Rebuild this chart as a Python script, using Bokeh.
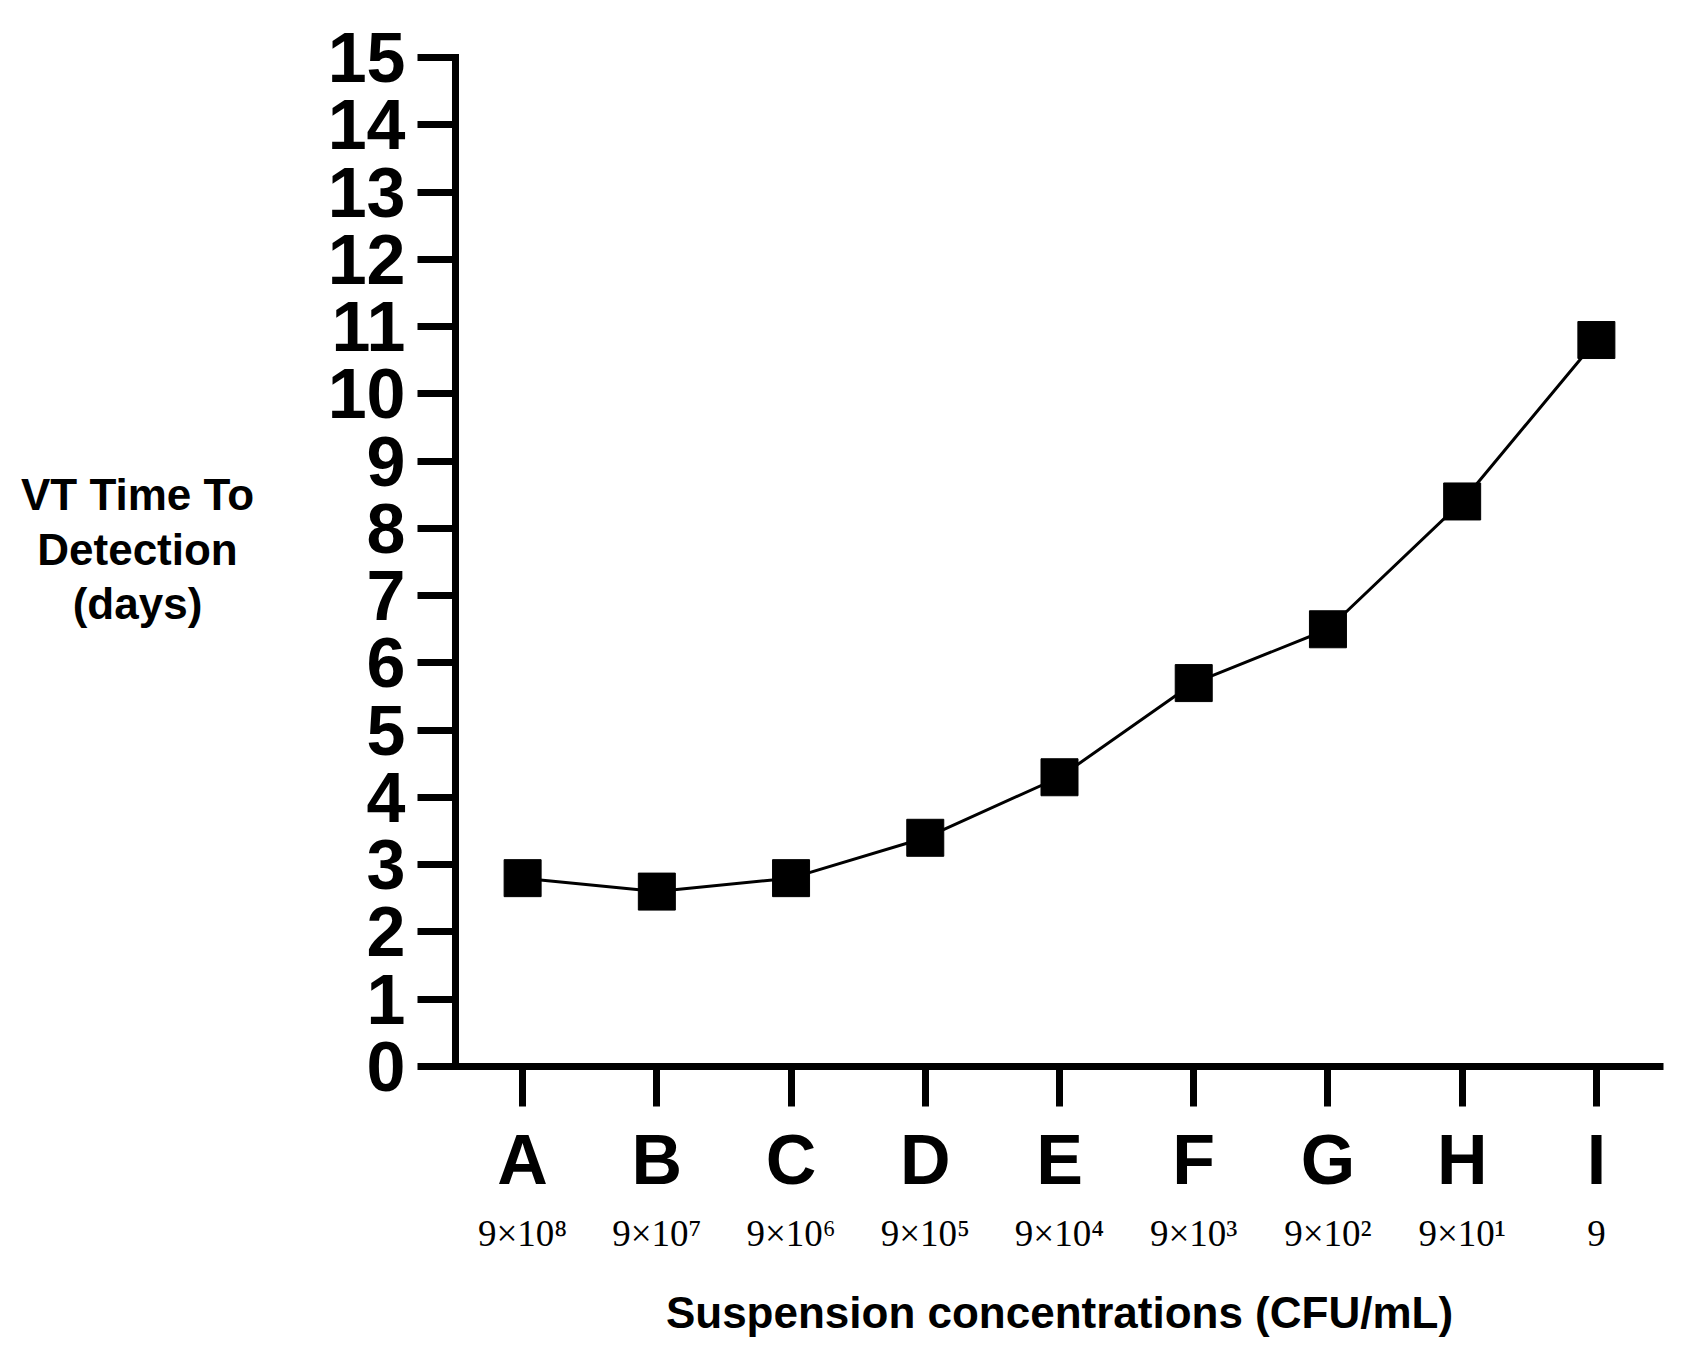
from bokeh.plotting import figure
from bokeh.models import FixedTicker, LinearAxis, Range1d
from bokeh.layouts import row
from bokeh.core.properties import value
from bokeh.embed import file_html
from bokeh.resources import INLINE

categories = ["A", "B", "C", "D", "E", "F", "G", "H", "I"]
concentrations = ["9×10⁸", "9×10⁷", "9×10⁶", "9×10⁵", "9×10⁴",
                  "9×10³", "9×10²", "9×10¹", "9"]
ttd_days = [2.8, 2.6, 2.8, 3.4, 4.3, 5.7, 6.5, 8.4, 10.8]
y_ticks = list(range(0, 16))
y_title_lines = ["VT Time To", "Detection", "(days)"]
x_title = "Suspension concentrations (CFU/mL)"

positions = list(range(1, len(categories) + 1))

SANS = "Liberation Sans"
SERIF = "Liberation Serif"

H = 1352
TW = 300
FRAME_TOP = 57
FRAME_BOTTOM = 1066
TITLE_CX = 137        # horizontal centre of the y title (px)
TITLE_TOP = 494       # centre of first title line, px from top
TITLE_STEP = 54.5     # line spacing, px

# ---- left panel holding the (horizontal, centered) y-axis title ----
# Its frame is aligned with the main frame by the row layout, so map
# its y range to pixel rows (measured from the top of the canvas).
pt = figure(width=TW, height=H, x_range=Range1d(0, TW),
            y_range=Range1d(start=FRAME_BOTTOM, end=FRAME_TOP),
            output_backend="svg", toolbar_location=None,
            x_axis_location=None, y_axis_location=None,
            min_border=0)
pt.outline_line_color = None
pt.xgrid.visible = False
pt.ygrid.visible = False
line_y = [TITLE_TOP + i * TITLE_STEP for i in range(len(y_title_lines))]
pt.text(x=[TITLE_CX] * len(y_title_lines), y=line_y, text=y_title_lines,
        text_align="center", text_baseline="middle",
        text_font=value(SANS), text_font_style="bold",
        text_font_size="44px", text_color="black")

# ---- main chart ----
p = figure(width=1685 - TW, height=H,
           x_range=Range1d(0.5, len(categories) + 0.5),
           y_range=Range1d(0, 15),
           output_backend="svg", toolbar_location=None,
           min_border_left=455 - TW, min_border_right=22,
           min_border_top=FRAME_TOP, min_border_bottom=H - FRAME_BOTTOM)

p.outline_line_color = None
p.xgrid.visible = False
p.ygrid.visible = False
p.background_fill_color = "white"
p.border_fill_color = "white"

# y axis
ya = p.yaxis[0]
ya.ticker = FixedTicker(ticks=y_ticks)
ya.axis_line_width = 7
ya.axis_line_cap = "square"
ya.major_tick_line_width = 7
ya.major_tick_out = 38
ya.major_tick_in = 0
ya.minor_tick_line_color = None
ya.major_label_text_font = SANS
ya.major_label_text_font_style = "bold"
ya.major_label_text_font_size = "70px"
ya.major_label_text_color = "black"
ya.major_label_standoff = 12

# x axis (letters)
xa = p.xaxis[0]
xa.ticker = FixedTicker(ticks=positions)
xa.major_label_overrides = {pos: c for pos, c in zip(positions, categories)}
xa.axis_line_width = 7
xa.major_tick_line_width = 7
xa.major_tick_out = 40
xa.major_tick_in = 0
xa.minor_tick_line_color = None
xa.major_label_text_font = SANS
xa.major_label_text_font_style = "bold"
xa.major_label_text_font_size = "70px"
xa.major_label_text_color = "black"
xa.major_label_standoff = 14

# second x axis (concentrations) with the x title
xa2 = LinearAxis(ticker=FixedTicker(ticks=positions))
xa2.major_label_overrides = {pos: c for pos, c in zip(positions, concentrations)}
xa2.axis_line_color = None
xa2.major_tick_line_color = None
xa2.major_tick_out = 0
xa2.major_tick_in = 0
xa2.minor_tick_line_color = None
xa2.major_label_text_font = SERIF
xa2.major_label_text_font_size = "37px"
xa2.major_label_text_color = "black"
xa2.major_label_standoff = 11
xa2.axis_label = x_title
xa2.axis_label_text_font = SANS
xa2.axis_label_text_font_style = "bold"
xa2.axis_label_text_font_size = "44px"
xa2.axis_label_text_color = "black"
xa2.axis_label_standoff = 31
p.add_layout(xa2, "below")

p.line(positions, ttd_days, line_color="black", line_width=3)
p.scatter(positions, ttd_days, marker="square", size=37,
          fill_color="black", line_color="black")

layout = row(pt, p)
open("out.html", "w").write(file_html(layout, INLINE))
